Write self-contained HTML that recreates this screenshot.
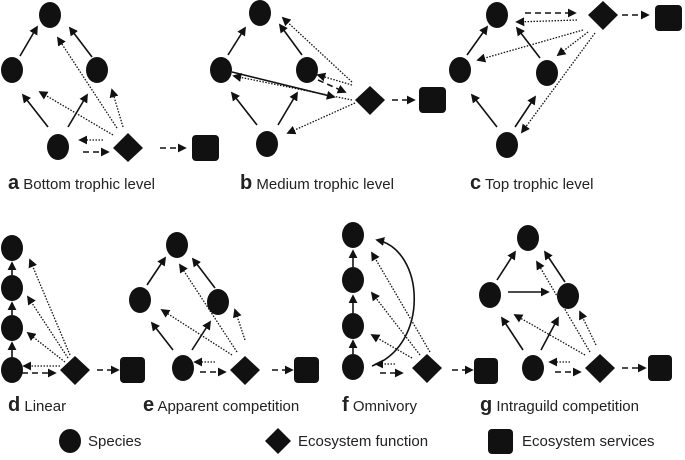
<!DOCTYPE html>
<html><head><style>
html,body{margin:0;padding:0;background:#fff}
svg{display:block}
text{font-family:"Liberation Sans",sans-serif;fill:#222}
</style></head><body>
<svg width="685" height="460" viewBox="0 0 685 460">
<defs>
<marker id="m" viewBox="0 0 10 10" refX="8" refY="5" markerWidth="9" markerHeight="9" markerUnits="userSpaceOnUse" orient="auto"><path d="M0,0 L10,5 L0,10 z" fill="#111"/></marker>
</defs>
<g fill="#111">
<!-- a -->
<ellipse cx="50" cy="15" rx="11" ry="13"/><ellipse cx="12" cy="70" rx="11" ry="13"/><ellipse cx="97" cy="70" rx="11" ry="13"/><ellipse cx="58" cy="147" rx="11" ry="13"/>
<path d="M128,133 L143,148 L128,162 L113,148z"/><rect x="192" y="135" width="27" height="26" rx="4"/>
<!-- b -->
<ellipse cx="260" cy="13" rx="11" ry="13"/><ellipse cx="221" cy="70" rx="11" ry="13"/><ellipse cx="307" cy="70" rx="11" ry="13"/><ellipse cx="267" cy="144" rx="11" ry="13"/>
<path d="M370,86 L385,100 L370,115 L355,100z"/><rect x="419" y="87" width="27" height="26" rx="4"/>
<!-- c -->
<ellipse cx="497" cy="15" rx="11" ry="13"/><ellipse cx="460" cy="70" rx="11" ry="13"/><ellipse cx="547" cy="73" rx="11" ry="13"/><ellipse cx="507" cy="145" rx="11" ry="13"/>
<path d="M603,1 L618,15 L603,30 L588,15z"/><rect x="655" y="5" width="27" height="26" rx="4"/>
<!-- d -->
<ellipse cx="12" cy="248" rx="11" ry="13"/><ellipse cx="12" cy="288" rx="11" ry="13"/><ellipse cx="12" cy="328" rx="11" ry="13"/><ellipse cx="12" cy="370" rx="11" ry="13"/>
<path d="M75,356 L90,370 L75,385 L60,370z"/><rect x="120" y="357" width="25" height="26" rx="4"/>
<!-- e -->
<ellipse cx="177" cy="245" rx="11" ry="13"/><ellipse cx="140" cy="300" rx="11" ry="13"/><ellipse cx="218" cy="302" rx="11" ry="13"/><ellipse cx="183" cy="368" rx="11" ry="13"/>
<path d="M245,356 L260,370 L245,385 L230,370z"/><rect x="294" y="357" width="25" height="26" rx="4"/>
<!-- f -->
<ellipse cx="353" cy="235" rx="11" ry="13"/><ellipse cx="353" cy="280" rx="11" ry="13"/><ellipse cx="353" cy="326" rx="11" ry="13"/><ellipse cx="353" cy="367" rx="11" ry="13"/>
<path d="M427,354 L442,368 L427,383 L412,368z"/><rect x="474" y="358" width="24" height="26" rx="4"/>
<!-- g -->
<ellipse cx="528" cy="238" rx="11" ry="13"/><ellipse cx="490" cy="295" rx="11" ry="13"/><ellipse cx="568" cy="296" rx="11" ry="13"/><ellipse cx="533" cy="368" rx="11" ry="13"/>
<path d="M600,354 L615,368 L600,383 L585,368z"/><rect x="648" y="355" width="24" height="26" rx="4"/>
<!-- legend -->
<ellipse cx="70" cy="441" rx="11" ry="12"/>
<path d="M278,428 L291,441 L278,454 L265,441z"/>
<rect x="488" y="429" width="25" height="25" rx="4"/>
</g>
<g stroke="#111" fill="none" marker-end="url(#m)">
<g stroke-width="1.6">
<!-- a solid -->
<line x1="20" y1="56" x2="37" y2="27"/><line x1="92" y1="57" x2="70" y2="28"/><line x1="48" y1="127" x2="23" y2="95"/><line x1="68" y1="127" x2="87" y2="95"/>
<!-- b -->
<line x1="228" y1="55" x2="245" y2="28"/><line x1="302" y1="55" x2="280" y2="25"/><line x1="257" y1="125" x2="232" y2="93"/><line x1="278" y1="125" x2="297" y2="93"/><line x1="232" y1="72" x2="334" y2="97"/>
<!-- c -->
<line x1="467" y1="55" x2="487" y2="27"/><line x1="540" y1="58" x2="517" y2="28"/><line x1="497" y1="127" x2="472" y2="95"/><line x1="515" y1="127" x2="535" y2="97"/>
<!-- d -->
<line x1="12" y1="357" x2="12" y2="343"/><line x1="12" y1="315" x2="12" y2="303"/><line x1="12" y1="275" x2="12" y2="263"/>
<!-- e -->
<line x1="147" y1="285" x2="165" y2="258"/><line x1="215" y1="288" x2="193" y2="259"/><line x1="173" y1="350" x2="152" y2="323"/><line x1="192" y1="350" x2="210" y2="322"/>
<!-- f -->
<line x1="353" y1="354" x2="353" y2="341"/><line x1="353" y1="313" x2="353" y2="296"/><line x1="353" y1="267" x2="353" y2="251"/>
<path d="M372,366 C430,345 425,250 377,240"/>
<!-- g -->
<line x1="497" y1="280" x2="515" y2="252"/><line x1="565" y1="282" x2="545" y2="252"/><line x1="508" y1="292" x2="548" y2="292"/><line x1="523" y1="350" x2="502" y2="318"/><line x1="541" y1="350" x2="558" y2="318"/>
</g>
<g stroke-width="1.6" stroke-dasharray="6,4">
<line x1="83" y1="152" x2="108" y2="152"/><line x1="160" y1="148" x2="185" y2="148"/>
<line x1="318" y1="80" x2="345" y2="92"/><line x1="392" y1="100" x2="414" y2="100"/>
<line x1="525" y1="13" x2="575" y2="13"/><line x1="622" y1="15" x2="648" y2="15"/>
<line x1="22" y1="373" x2="55" y2="373"/><line x1="97" y1="370" x2="118" y2="370"/>
<line x1="200" y1="372" x2="225" y2="372"/><line x1="272" y1="370" x2="292" y2="370"/>
<line x1="380" y1="373" x2="402" y2="373"/><line x1="452" y1="370" x2="472" y2="370"/>
<line x1="555" y1="372" x2="580" y2="372"/><line x1="622" y1="368" x2="645" y2="368"/>
</g>
<g stroke-width="1.3" stroke-dasharray="1.5,1.5">
<line x1="117" y1="128" x2="58" y2="38"/><line x1="113" y1="135" x2="40" y2="92"/><line x1="123" y1="127" x2="112" y2="90"/><line x1="103" y1="140" x2="80" y2="140"/>
<line x1="352" y1="100" x2="234" y2="76"/><line x1="352" y1="82" x2="283" y2="18"/><line x1="352" y1="85" x2="318" y2="75"/><line x1="355" y1="103" x2="288" y2="133"/>
<line x1="577" y1="20" x2="517" y2="22"/><line x1="583" y1="30" x2="478" y2="60"/><line x1="588" y1="32" x2="558" y2="55"/><line x1="595" y1="33" x2="522" y2="132"/>
<line x1="70" y1="355" x2="30" y2="260"/><line x1="68" y1="358" x2="28" y2="297"/><line x1="65" y1="362" x2="28" y2="333"/><line x1="60" y1="366" x2="24" y2="366"/>
<line x1="237" y1="352" x2="180" y2="265"/><line x1="232" y1="355" x2="162" y2="310"/><line x1="245" y1="340" x2="235" y2="310"/><line x1="215" y1="362" x2="195" y2="362"/>
<line x1="430" y1="352" x2="372" y2="253"/><line x1="420" y1="355" x2="372" y2="293"/><line x1="412" y1="358" x2="372" y2="335"/><line x1="395" y1="364" x2="376" y2="364"/>
<line x1="590" y1="352" x2="537" y2="262"/><line x1="585" y1="355" x2="515" y2="315"/><line x1="596" y1="345" x2="580" y2="312"/><line x1="570" y1="362" x2="550" y2="362"/>
</g>
</g>
<g font-size="15">
<text x="8" y="189"><tspan font-weight="bold" font-size="20">a</tspan> Bottom trophic level</text>
<text x="240" y="189"><tspan font-weight="bold" font-size="20">b</tspan> Medium trophic level</text>
<text x="470" y="189"><tspan font-weight="bold" font-size="20">c</tspan> Top trophic level</text>
<text x="8" y="411"><tspan font-weight="bold" font-size="20">d</tspan> Linear</text>
<text x="143" y="411"><tspan font-weight="bold" font-size="20">e</tspan> Apparent competition</text>
<text x="342" y="411"><tspan font-weight="bold" font-size="20">f</tspan> Omnivory</text>
<text x="480" y="411"><tspan font-weight="bold" font-size="20">g</tspan> Intraguild competition</text>
<text x="88" y="446">Species</text>
<text x="298" y="446">Ecosystem function</text>
<text x="522" y="446">Ecosystem services</text>
</g>
</svg>
</body></html>
